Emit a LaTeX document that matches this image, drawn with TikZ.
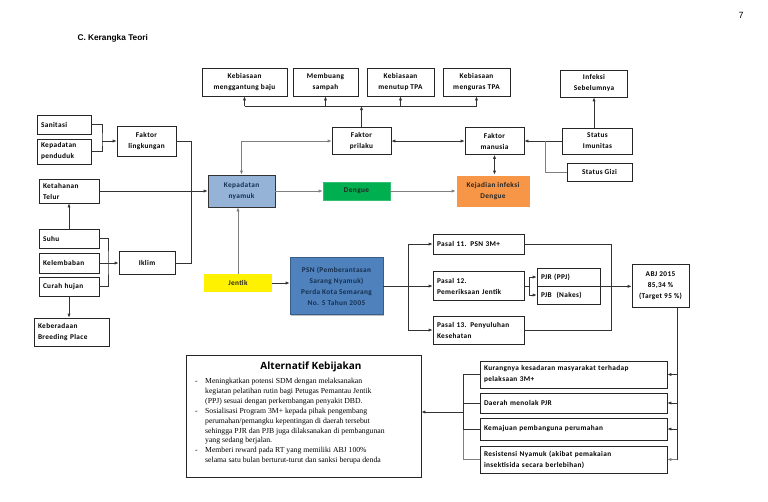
\documentclass[tikz,border=0pt]{standalone}
\usepackage{fontspec}
\setmainfont{Liberation Serif}
\newfontfamily\boxfont[LetterSpace=5]{Carlito}
\newfontfamily\headfont{Liberation Sans}
\newfontfamily\titlefont{Open Sans}
\usetikzlibrary{arrows.meta,calc}
\definecolor{kepblue}{HTML}{95B3D7}
\definecolor{psnblue}{HTML}{4F81BD}
\definecolor{psnline}{HTML}{385D8A}
\definecolor{navy}{HTML}{14304F}
\definecolor{dgreen}{HTML}{00B050}
\definecolor{dorange}{HTML}{F79646}
\definecolor{lngray}{HTML}{7F7F7F}
\begin{document}
\begin{tikzpicture}[x=1pt,y=-1pt,
  bx/.style={draw=black!85, line width=0.7pt, fill=white, font=\boxfont\bfseries\fontsize{7.3}{11}\selectfont, align=center, inner sep=1pt},
  lbx/.style={bx, align=left, inner xsep=4pt},
  ln/.style={draw=black!80, line width=0.7pt},
  gln/.style={draw=lngray, line width=0.7pt},
  arr/.style={ln, -{Latex[length=4pt,width=3.2pt]}},
  garr/.style={gln, -{Latex[length=4pt,width=3.2pt]}},
  darr/.style={ln, {Latex[length=4pt,width=3.2pt]}-{Latex[length=4pt,width=3.2pt]}},
  gdarr/.style={gln, {Latex[length=4pt,width=3.2pt]}-{Latex[length=4pt,width=3.2pt]}},
  shd/.style={preaction={fill=black!25, transform canvas={xshift=1.2pt,yshift=-1.2pt}}},
]
\useasboundingbox (0,0) rectangle (768,501);
\node[font=\headfont\fontsize{9}{10}\selectfont] (pg) at (741,15) {7};
\node[anchor=west, font=\headfont\bfseries\fontsize{8.3}{10}\selectfont] (ttl) at (74,38) {C. Kerangka Teori};

% top row
\node[bx, minimum width=85pt, minimum height=28pt] (kg) at (244.5,82) {Kebiasaan\\menggantung baju};
\node[bx, minimum width=65pt, minimum height=28pt] (ms) at (325.5,82) {Membuang\\sampah};
\node[bx, minimum width=67pt, minimum height=28pt] (kmt) at (400.5,82) {Kebiasaan\\menutup TPA};
\node[bx, minimum width=67pt, minimum height=28pt] (ku) at (476.5,82) {Kebiasaan\\menguras TPA};
\node[bx, minimum width=67pt, minimum height=27pt] (inf) at (594,83.5) {Infeksi\\Sebelumnya};

% factors
\node[bx, minimum width=59pt, minimum height=27pt] (fp) at (361.5,141) {Faktor\\prilaku};
\node[bx, minimum width=59pt, minimum height=27pt] (fm) at (494.5,141) {Faktor\\manusia};
\node[bx, minimum width=70pt, minimum height=26pt] (si) at (597.5,141) {Status\\Imunitas};
\node[bx, minimum width=65pt, minimum height=18pt] (sg) at (599.5,172) {Status Gizi};

% left column
\node[lbx, text width=46pt, minimum height=19pt] (san) at (64,124.5) {Sanitasi};
\node[lbx, text width=46pt, minimum height=25pt] (kpd) at (64,151.5) {Kepadatan\\penduduk};
\node[bx, minimum width=59pt, minimum height=30pt] (fl) at (146.5,141) {Faktor\\lingkungan};
\node[lbx, text width=52pt, minimum height=24pt] (kth) at (69,191) {Ketahanan\\Telur};
\node[lbx, text width=52pt, minimum height=19pt] (suhu) at (69,238.5) {Suhu};
\node[lbx, text width=52pt, minimum height=20pt] (kel) at (69,263) {Kelembaban};
\node[lbx, text width=52pt, minimum height=19pt] (ch) at (69,286.5) {Curah hujan};
\node[bx, minimum width=56pt, minimum height=23pt] (iklim) at (147,263) {Iklim};
\node[lbx, text width=67pt, minimum height=28pt] (kbp) at (71.5,332) {Keberadaan\\Breeding Place};

% centre
\node[bx, fill=kepblue, draw=black!80, text=navy, minimum width=67pt, minimum height=32pt] (kn) at (241.5,191) {Kepadatan\\nyamuk};
\node[bx, shd, fill=dgreen, draw=dgreen!80!white, text=black!85, minimum width=67pt, minimum height=18pt] (dg) at (356.5,191) {Dengue};
\node[bx, shd, fill=dorange, draw=white, text=black!85, minimum width=74pt, minimum height=32pt] (kj) at (493,191) {Kejadian infeksi\\Dengue};
\node[bx, fill=yellow, draw=none, text=black!85, minimum width=68pt, minimum height=18pt] (jen) at (238,283) {Jentik};
\node[bx, shd, fill=psnblue, draw=psnline, text=navy, minimum width=93pt, minimum height=57pt] (psn) at (336.5,286) {PSN (Pemberantasan\\Sarang Nyamuk)\\Perda Kota Semarang\\No. 5 Tahun 2005};

% pasal
\node[lbx, text width=83pt, minimum height=20pt] (p11) at (478.5,244) {Pasal 11. PSN 3M+};
\node[lbx, text width=83pt, minimum height=29pt] (p12) at (478.5,286) {Pasal 12.\\Pemeriksaan Jentik};
\node[lbx, text width=83pt, minimum height=28pt] (p13) at (478.5,330) {Pasal 13. Penyuluhan\\Kesehatan};
\node[lbx, text width=55pt, minimum height=18pt] (pjr) at (568.5,277) {PJR (PPJ)};
\node[lbx, text width=55pt, minimum height=18pt] (pjb) at (568.5,295) {PJB~ (Nakes)};
\node[bx, minimum width=57pt, minimum height=43pt] (abj) at (660.5,286) {ABJ 2015\\85,34 \%\\(Target 95 \%)};

% right column
\node[lbx, text width=179pt, minimum height=27pt] (r1) at (573.5,374.5) {Kurangnya kesadaran masyarakat terhadap\\pelaksaan 3M+};
\node[lbx, text width=179pt, minimum height=20pt] (r2) at (573.5,403) {Daerah menolak PJR};
\node[lbx, text width=179pt, minimum height=22pt] (r3) at (573.5,429) {Kemajuan pembanguna perumahan};
\node[lbx, text width=179pt, minimum height=27pt] (r4) at (573.5,459.5) {Resistensi Nyamuk (akibat pemakaian\\insektisida secara berlebihan)};

% alternatif
\node[draw=black!85, line width=0.8pt, fill=white, minimum width=235pt, minimum height=122pt] (alt) at (303.5,416) {};
\node[font=\titlefont\bfseries\fontsize{10}{12}\selectfont] (altt) at (311,367) {Alternatif Kebijakan};
\node[anchor=north west, align=left, inner sep=0pt, font=\fontsize{7.7}{9.9}\selectfont] (altb) at (195,378)
{\makebox[10pt][l]{-}Meningkatkan potensi SDM dengan melaksanakan\\
\hspace*{10pt}kegiatan pelatihan rutin bagi Petugas Pemantau Jentik\\
\hspace*{10pt}(PPJ) sesuai dengan perkembangan penyakit DBD.\\
\makebox[10pt][l]{-}Sosialisasi Program 3M+ kepada pihak pengembang\\
\hspace*{10pt}perumahan/pemangku kepentingan di daerah tersebut\\
\hspace*{10pt}sehingga PJR dan PJB juga dilaksanakan di pembangunan\\
\hspace*{10pt}yang sedang berjalan.\\
\makebox[10pt][l]{-}Memberi reward pada RT yang memiliki ABJ 100\%\\
\hspace*{10pt}selama satu bulan berturut-turut dan sanksi berupa denda};

% ---- connectors ----
\coordinate (b1) at (102,141);
\draw[ln] (san.east) -| (b1) |- (kpd.east);
\draw[arr] (b1) -- (fl.west);
\coordinate (v1) at (191,191);
\draw[ln] (fl.east) -| (v1);
\draw[ln] (iklim.east) -| (v1);
\draw[arr] (kth.east) -- (kn.west);
\coordinate (b2) at (108,263);
\draw[ln] (suhu.east) -| (b2) |- (ch.east);
\draw[arr] (kel.east) -- (iklim.west);
\draw[arr] (suhu.north) -- (kth.south);
\draw[arr] (ch.south) -- (ch.south |- kbp.north);

\draw[gdarr] (kn.north) |- (fp.west);
\draw[garr] (kn.east) -- (dg.west);
\draw[garr] (dg.east) -- (kj.west);
\draw[garr] (jen.north) -- (jen.north |- kn.south);
\draw[arr] (jen.east) -- (jen.east -| psn.west);
\draw[darr] (fp.east) -- (fm.west);
\draw[darr] (fm.south) -- (fm.south |- kj.north);
\draw[arr] (si.west) -- (fm.east);
\coordinate (b3) at (545,141);
\draw[gln] (b3) |- (sg.west);
\draw[arr] (si.north -| inf.south) -- (inf.south);

\coordinate (bus) at (361.5,106);
\draw[arr] (fp.north) -- (bus);
\draw[ln] (kg.south |- bus) -- (ku.south |- bus);
\foreach \n in {kg,ms,kmt,ku} \draw[arr] (\n.south |- bus) -- (\n.south);

\coordinate (pb) at (408,286);
\draw[ln] (psn.east) -- (pb);
\draw[ln] (pb |- p11) -- (pb |- p13);
\draw[arr] (pb |- p11) -- (p11.west);
\draw[arr] (pb) -- (p12.west);
\draw[arr] (pb |- p13) -- (p13.west);

\coordinate (pq) at (529,286);
\draw[ln] (p12.east) -- (pq);
\draw[ln] (pq |- pjr) -- (pq |- pjb);
\draw[arr] (pq |- pjr) -- (pjr.west);
\draw[arr] (pq |- pjb) -- (pjb.west);

\coordinate (rb) at (611,286);
\draw[ln] (p11.east) -| (rb |- p13) -- (p13.east);
\draw[arr] (pjr.south east) -- (pjr.south east -| abj.west);

\coordinate (ab) at (677,307);
\draw[ln] (abj.south -| ab) -- (ab |- r4);
\foreach \r in {r1,r2,r3} \draw[arr] (ab |- \r) -- (\r.east);
\draw[garr] (ab |- r4) -- (r4.east);

\coordinate (lb) at (463,412);
\draw[ln] (r1.west) -| (lb |- r3);
\draw[gln] (lb |- r3) |- (r4.west);
\draw[ln] (r2.west) -- (lb |- r2);
\draw[ln] (r3.west) -- (lb |- r3);
\draw[arr] (lb) -- (lb -| alt.east);
\end{tikzpicture}
\end{document}
